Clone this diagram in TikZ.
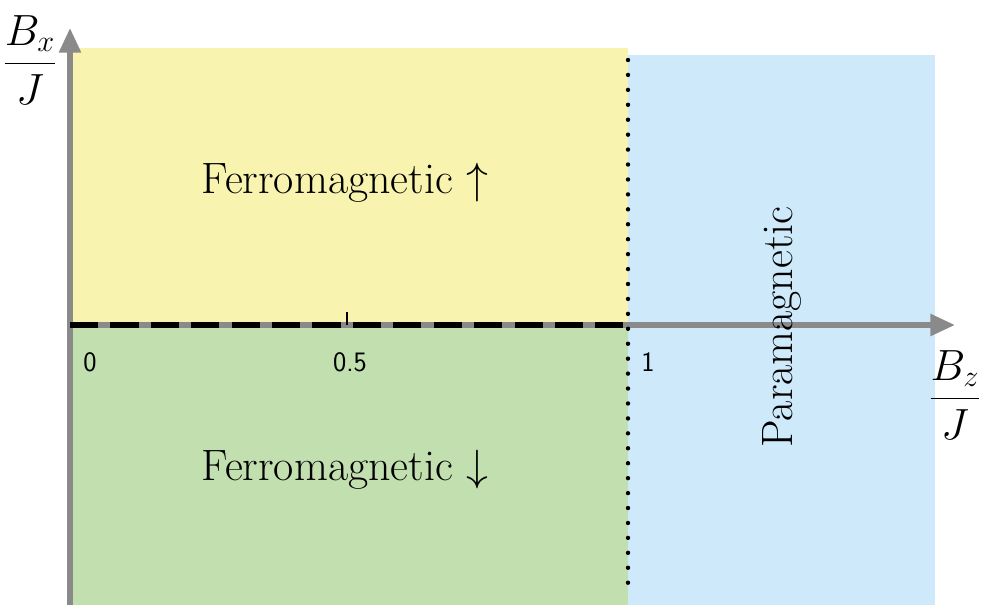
\documentclass[tikz,border=0pt]{standalone}
\usetikzlibrary{arrows.meta}
\definecolor{yel}{HTML}{F8F4B0}
\definecolor{grn}{HTML}{C2DFB0}
\definecolor{blu}{HTML}{CDE9FA}
\definecolor{axg}{HTML}{8A8A8A}
\tikzset{
  lab/.style={font=\fontsize{25}{30}\selectfont},
  num/.style={font=\fontsize{16}{19}\sffamily},
  axis/.style={axg,line width=3pt,-{Triangle[length=14pt,width=12pt]}}
}
\begin{document}
\begin{tikzpicture}[x=0.02cm,y=-0.02cm]
\useasboundingbox (0,0) rectangle (1000,614);
\fill[blu] (628,55) rectangle (935,605);
\fill[yel] (70,48) rectangle (628,325);
\fill[grn] (70,325) rectangle (628,605);
\coordinate (o) at (70,325);
\coordinate (ytop) at (70,28);
\coordinate (ybot) at (70,605);
\coordinate (xend) at (955,325);
\coordinate (one) at (628,325);
\draw[axis] (ybot) -- (ytop);
\draw[axis] (o) -- (xend);
\draw[black,line width=3pt,dash pattern=on 16pt off 7pt] (o) -- (one);
\draw[black,line width=1.5pt] (347,325) -- (347,312);
\draw[black,line width=2.5pt,line cap=round,dash pattern=on 0pt off 8.5pt] (628,60) -- (628,595);
\node[num] (n0) at (90,362) {0};
\node[num] (n05) at (350,362) {0.5};
\node[num] (n1) at (648,362) {1};
\node[lab] (by) at (30,60) {$\displaystyle\frac{B_x}{J}$};
\node[lab] (bz) at (955,395) {$\displaystyle\frac{B_z}{J}$};
\node[lab] (fu) at (345,183) {Ferromagnetic $\uparrow$};
\node[lab] (fd) at (345,470) {Ferromagnetic $\downarrow$};
\node[lab,rotate=90] (pm) at (782,327) {Paramagnetic};
\end{tikzpicture}
\end{document}
